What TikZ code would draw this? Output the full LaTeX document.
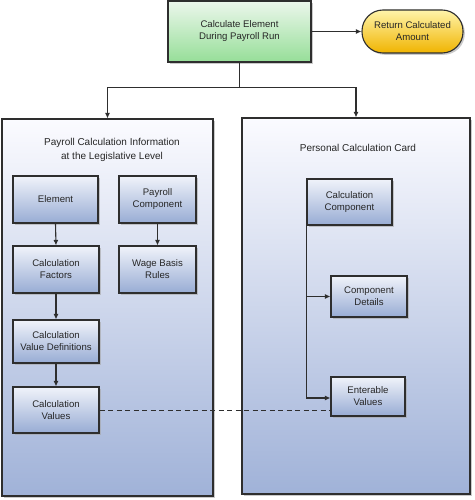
\documentclass[tikz,border=0pt]{standalone}
\usepackage{fontspec}
\setmainfont{Liberation Sans}
\usetikzlibrary{arrows.meta,shadows,calc}
\definecolor{edge}{HTML}{2E2E2E}
\definecolor{txt}{HTML}{262626}
\tikzset{
  base/.style={draw=edge, line width=1.1pt, align=center, inner sep=0pt, text=txt,
    font=\fontsize{9.6}{12}\selectfont,
    drop shadow={shadow xshift=1.8pt, shadow yshift=-1.8pt, fill=black!35, opacity=0.6}},
  panel/.style={base, shading=axis, top color=white!96!blue!40!white, bottom color={rgb,255:red,160;green,178;blue,216}},
  inner/.style={base, shading=axis, top color={rgb,255:red,240;green,243;blue,250}, middle color={rgb,255:red,212;green,222;blue,240}, bottom color={rgb,255:red,152;green,172;blue,212}},
  greenbox/.style={base, shading=axis, top color={rgb,255:red,236;green,247;blue,236}, bottom color={rgb,255:red,150;green,222;blue,152}},
  ovalbox/.style={base, rounded corners=21pt, shading=axis, top color={rgb,255:red,255;green,244;blue,170}, bottom color={rgb,255:red,240;green,180;blue,0}},
  conn/.style={draw=edge, line width=1.1pt, -{Latex[length=5.5pt,width=5pt]}},
  dashconn/.style={draw=edge, line width=0.9pt, dashed, dash pattern=on 5pt off 3.5pt},
  title/.style={align=center, text=txt, font=\fontsize{10}{13.5}\selectfont}
}
\begin{document}
\begin{tikzpicture}[x=1pt,y=-1pt]
\useasboundingbox (0,0) rectangle (474,500);
% top
\node[greenbox, minimum width=143pt, minimum height=61pt] (calc) at (239.5,31.5) {Calculate Element\\During Payroll Run};
\node[ovalbox, minimum width=101pt, minimum height=43pt] (ret) at (412.5,31.5) {Return Calculated\\Amount};
% panels
\node[panel, minimum width=211pt, minimum height=377pt] (lp) at (107.5,307.5) {};
\node[panel, minimum width=228pt, minimum height=376pt] (rp) at (356,306) {};
\node[title] (lpt) at (112,150) {Payroll Calculation Information\\at the Legislative Level};
\node[title] (rpt) at (358,148) {Personal Calculation Card};
% left inner
\node[inner, minimum width=85pt, minimum height=47pt] (el) at (55.5,199.5) {Element};
\node[inner, minimum width=77pt, minimum height=47pt] (pc) at (157.5,199.5) {Payroll\\Component};
\node[inner, minimum width=86pt, minimum height=47pt] (cf) at (56,269.5) {Calculation\\Factors};
\node[inner, minimum width=77pt, minimum height=47pt] (wb) at (157.5,269.5) {Wage Basis\\Rules};
\node[inner, minimum width=86pt, minimum height=43pt] (cvd) at (56,341.5) {Calculation\\Value Definitions};
\node[inner, minimum width=86pt, minimum height=46pt] (cv) at (56,410) {Calculation\\Values};
% right inner
\node[inner, minimum width=85pt, minimum height=46pt] (cc) at (349.5,202) {Calculation\\Component};
\node[inner, minimum width=76pt, minimum height=41pt] (cd) at (369,296.5) {Component\\Details};
\node[inner, minimum width=74pt, minimum height=39pt] (ev) at (368,396.5) {Enterable\\Values};
% connectors
\draw[conn] (calc.east) -- (ret.west);
\coordinate (split) at ($(calc.south)+(0,25)$);
\draw[draw=edge, line width=1.1pt] (calc.south) -- (split);
\draw[conn] (split) -| (lp.north);
\draw[conn] (split) -| (rp.north);
\draw[conn] (el.south) -- (cf.north);
\draw[conn] (cf.south) -- (cvd.north);
\draw[conn] (cvd.south) -- (cv.north);
\draw[conn] (pc.south) -- (wb.north);
\coordinate (br) at (cc.south west |- cd.west);
\draw[conn] (cc.south west) |- ($(ev.west)+(0,1.5)$);
\draw[conn] (br) -- (cd.west);
\draw[dashconn] (cv.east) -- (cv.east -| ev.west);
\end{tikzpicture}
\end{document}
